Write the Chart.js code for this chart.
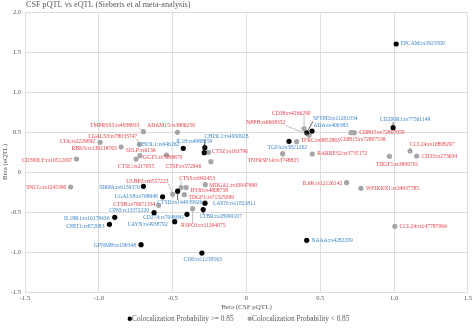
<!DOCTYPE html>
<html>
<head>
<meta charset="utf-8">
<script src="https://cdn.jsdelivr.net/npm/chart.js@4.4.1/dist/chart.umd.min.js"></script>
<style>
  html, body { margin: 0; padding: 0; background: #fff; }
  canvas { display: block; }
</style>
</head>
<body>
<canvas id="chart" width="474" height="333"></canvas>
<script>
// colocalization probability >= 0.85
const hiNames = [
  'EPCAM:rs3923500', 'CD200R1:rs77561149', 'SFTPD:rs11201034', 'ADA:rs406383', 'TGFA:rs3821262',
  'CHI3L1:rs4950928', 'IL18:rs4988359', 'CHI3L1:rs946262', 'SIRPA:rs6136376', 'LGALS8:rs768948',
  'CTSD:rs144939926', 'LAYN:rs11821811', 'LTBR:rs28999107', 'CPM:rs13372220', 'CD274:rs7048841',
  'LAYN:rs4938792', 'IL18R1:rs10178436', 'CHIT1:rs872083', 'GPNMB:rs199348', 'CD6:rs11230563',
  'NAAA:rs4282209'
];
const hiCsf = [1.014, 0.993, 0.408, 0.444, 0.288, -0.282, -0.286, -0.428, -0.698, -0.568,
  -0.466, -0.281, -0.293, -0.626, -0.403, -0.486, -0.892, -0.928, -0.714, -0.302, 0.408];
const hiEqtl = [1.60, 0.554, 0.49, 0.512, 0.383, 0.304, 0.242, 0.296, -0.179, -0.31,
  -0.24, -0.39, -0.47, -0.508, -0.529, -0.621, -0.567, -0.654, -0.908, -1.013, -0.854];

// colocalization probability < 0.85
const loNames = [
  'CD38:rs4266290', 'NPPB:rs6668352', 'TFRC:rs9852863', 'CDH15:rs72807050', 'CDH15:rs72807538',
  'TNFRSF14:rs3748825', 'RARRES2:rs3735172', 'CCL24:rs10808297', 'CD33:rs273634', 'TDGF1:rs3806701',
  'IL6R:rs12126142', 'WFIKKN1:rs34937785', 'CCL24:rs147787064', 'TMPRSS5:rs4938033', 'ADAM15:rs3806256',
  'LTA:rs2229092', 'LGALS3:rs78033747', 'RBKS:rs139218763', 'SELP:rs6136', 'GGT5:rs7288670',
  'CTSC:rs217055', 'CD300LF:rs10512097', 'CTSZ:rs163796', 'CTSF:rs572946', 'SNCG:rs1245390',
  'ULBP2:rs6557223', 'CTSS:rs942453', 'IFI30:rs4808758', 'TDGF1:rs71325099', 'MDGA1:rs10947690',
  'CTSB:rs79671334', 'RSPO1:rs11264075'
];
const loCsf = [0.39, 0.424, 0.34, 0.73, 0.709, 0.245, 0.446, 1.108, 1.153, 0.968,
  0.678, 0.775, 1.005, -0.698, -0.468, -0.991, -0.725, -0.849, -0.721, -0.541,
  -0.748, -1.151, -0.257, -0.241, -1.191, -0.50, -0.443, -0.409, -0.421, -0.279,
  -0.595, -0.365];
const loEqtl = [0.54, 0.46, 0.379, 0.492, 0.492, 0.229, 0.225, 0.2625, 0.20, 0.196,
  -0.133, -0.204, -0.679, 0.504, 0.496, 0.371, 0.346, 0.3125, 0.204, 0.2125,
  0.1625, 0.1625, 0.246, 0.129, -0.1875, -0.279, -0.195, -0.195, -0.283, -0.158,
  -0.416, -0.458];

const xTicks = [-1.5, -1, -0.5, 0, 0.5, 1, 1.5];
const yTicks = [-1.5, -1, -0.5, 0, 0.5, 1, 1.5, 2];

// where each point label sits: [dx, dy, align, leader line]
// align: 'l' text starts at dx, 'r' text ends at dx, 'c' text centred on dx
const labelPos = {
  'EPCAM:rs3923500': [4.3, 0, 'l'],
  'CD200R1:rs77561149': [12, -8, 'c', true],
  'SFTPD:rs11201034': [6.3, -14, 'l', true],
  'ADA:rs406383': [1.5, -5.5, 'l'],
  'TGFA:rs3821262': [-1.7, 5.7, 'c'],
  'CHI3L1:rs4950928': [21.7, -11, 'c', true],
  'IL18:rs4988359': [-10, -11.3, 'c', true],
  'CHI3L1:rs946262': [-4, -3.3, 'r'],
  'SIRPA:rs6136376': [-3.7, 1.7, 'r'],
  'LGALS8:rs768948': [-4.7, 0, 'r'],
  'CTSD:rs144939926': [2.2, 11.3, 'c', true],
  'LAYN:rs11821811': [8, 0, 'l'],
  'LTBR:rs28999107': [17.7, 7.3, 'c', true],
  'CPM:rs13372220': [-5, -2, 'r'],
  'CD274:rs7048841': [-2.7, 3, 'r'],
  'LAYN:rs4938792': [-7, 3, 'r'],
  'IL18R1:rs10178436': [-5.3, 1, 'r'],
  'CHIT1:rs872083': [-5, 2.7, 'r'],
  'GPNMB:rs199348': [-5, 1.3, 'r'],
  'CD6:rs11230563': [0.7, 6.3, 'c'],
  'NAAA:rs4282209': [4.7, 0, 'l'],
  'CD38:rs4266290': [-12.7, -15.3, 'c', true],
  'NPPB:rs6668352': [-43.3, -12.3, 'c', true],
  'TFRC:rs9852863': [4, -1, 'l'],
  'CDH15:rs72807050': [5, 0, 'l'],
  'CDH15:rs72807538': [11.7, 7, 'c'],
  'TNFRSF14:rs3748825': [-9.3, 6.7, 'c', true],
  'RARRES2:rs3735172': [5, 0, 'l'],
  'CCL24:rs10808297': [22, -6, 'c', true],
  'CD33:rs273634': [4.7, 0.3, 'l'],
  'TDGF1:rs3806701': [7.7, 8, 'c'],
  'IL6R:rs12126142': [-4.3, 1.3, 'r'],
  'WFIKKN1:rs34937785': [5, 0, 'l'],
  'CCL24:rs147787064': [4.7, 0, 'l'],
  'TMPRSS5:rs4938033': [-4, -5.7, 'r', true],
  'ADAM15:rs3806256': [-6.3, -6.7, 'c'],
  'LTA:rs2229092': [-5, -0.7, 'r'],
  'LGALS3:rs78033747': [-2.3, -7.7, 'r', true],
  'RBKS:rs139218763': [-4.3, 2, 'r'],
  'SELP:rs6136': [0.7, -5.3, 'c'],
  'GGT5:rs7288670': [-4, 2.7, 'c'],
  'CTSC:rs217055': [0, 7.3, 'c'],
  'CD300LF:rs10512097': [-4, 2, 'r'],
  'CTSZ:rs163796': [3.3, -1, 'l'],
  'CTSF:rs572946': [-9.7, 5.3, 'r'],
  'SNCG:rs1245390': [-4.3, 0.7, 'r'],
  'ULBP2:rs6557223': [-25.3, -13, 'c', true],
  'CTSS:rs942453': [16, -9.3, 'c', true],
  'IFI30:rs4808758': [4.3, 3.3, 'l'],
  'TDGF1:rs71325099': [4.3, 2.7, 'l'],
  'MDGA1:rs10947690': [4, 1, 'l'],
  'CTSB:rs79671334': [-3.3, -1, 'r'],
  'RSPO1:rs11264075': [10.7, 16.7, 'c', true]
};

const SERIF = '"Liberation Serif", "Times New Roman", serif';
const textGrey = '#595959';
const gridGrey = '#dedede';

const toPoints = (names, xs, ys) => names.map((name, i) => ({ x: xs[i], y: ys[i], name }));

// gene:SNP labels with optional leader lines
const pointLabels = {
  id: 'pointLabels',
  afterDatasetsDraw(chart) {
    const ctx = chart.ctx;
    ctx.save();
    ctx.font = '5.6px ' + SERIF;
    ctx.textBaseline = 'middle';
    ctx.textAlign = 'left';
    chart.data.datasets.forEach((ds, di) => {
      const meta = chart.getDatasetMeta(di);
      meta.data.forEach((pt, i) => {
        const name = ds.data[i].name;
        const [dx, dy, align, leader] = labelPos[name] || [4, 0, 'l'];
        const w = ctx.measureText(name).width;
        let left = pt.x + dx;
        if (align === 'r') left -= w;
        if (align === 'c') left -= w / 2;
        const cy = pt.y + dy;
        if (leader) {
          const bx = Math.max(left, Math.min(pt.x, left + w));
          const by = Math.max(cy - 2.5, Math.min(pt.y, cy + 2.5));
          ctx.strokeStyle = ds.leaderColor;
          ctx.lineWidth = 0.7;
          ctx.beginPath();
          ctx.moveTo(pt.x, pt.y);
          ctx.lineTo(bx, by);
          ctx.stroke();
        }
        ctx.fillStyle = ds.labelColor;
        ctx.fillText(name, left, cy);
      });
    });
    ctx.restore();
  }
};

// title, y axis title and the legend row
const decorations = {
  id: 'decorations',
  afterDraw(chart) {
    const ctx = chart.ctx;
    ctx.save();
    ctx.fillStyle = textGrey;
    ctx.textBaseline = 'middle';
    ctx.textAlign = 'left';
    ctx.font = '8.2px ' + SERIF;
    ctx.fillText('CSF pQTL vs eQTL (Sieberts et al meta-analysis)', 26, 4.5);

    ctx.save();
    ctx.translate(5.3, 162);
    ctx.rotate(-Math.PI / 2);
    ctx.textAlign = 'center';
    ctx.font = '7px ' + SERIF;
    ctx.fillText('Beta (eQTL)', 0, 0);
    ctx.restore();

    ctx.font = '7.3px ' + SERIF;
    const items = chart.data.datasets.map(ds => ({ text: ds.label, color: ds.backgroundColor }));
    const gap = 15, sym = 3.5;
    const widths = items.map(it => sym + ctx.measureText(it.text).width);
    const total = widths.reduce((a, b) => a + b, 0) + gap * (items.length - 1);
    let x = 239 - total / 2;
    const y = 318.7;
    items.forEach((it, i) => {
      ctx.fillStyle = it.color;
      ctx.beginPath();
      ctx.arc(x + 1.2, y, 2.2, 0, Math.PI * 2);
      ctx.fill();
      ctx.fillStyle = textGrey;
      ctx.fillText(it.text, x + sym, y);
      x += widths[i] + gap;
    });
    ctx.restore();
  }
};

new Chart(document.getElementById('chart'), {
  type: 'scatter',
  data: {
    datasets: [
      {
        label: 'Colocalization Probability >= 0.85',
        data: toPoints(hiNames, hiCsf, hiEqtl),
        backgroundColor: '#000000',
        borderWidth: 0,
        pointRadius: 2.6,
        labelColor: '#3f86c9',
        leaderColor: '#222222'
      },
      {
        label: 'Colocalization Probability < 0.85',
        data: toPoints(loNames, loCsf, loEqtl),
        backgroundColor: '#a6a6a6',
        borderWidth: 0,
        pointRadius: 2.6,
        labelColor: '#e8404a',
        leaderColor: '#a6a6a6'
      }
    ]
  },
  options: {
    responsive: false,
    animation: false,
    devicePixelRatio: 1,
    layout: { padding: { top: 12, right: 4, bottom: 21, left: 0 } },
    plugins: { legend: { display: false }, tooltip: { enabled: false } },
    scales: {
      x: {
        type: 'linear',
        min: -1.5,
        max: 1.5,
        afterBuildTicks: s => { s.ticks = xTicks.map(v => ({ value: v })); },
        afterFit: s => { s.height = 20; },
        ticks: { padding: 2, color: textGrey, font: { family: SERIF, size: 6.5 } },
        grid: { color: gridGrey, drawTicks: false },
        border: { color: gridGrey },
        title: {
          display: true,
          text: 'Beta (CSF pQTL)',
          color: textGrey,
          font: { family: SERIF, size: 7 },
          padding: { top: 0, bottom: 1 }
        }
      },
      y: {
        type: 'linear',
        min: -1.5,
        max: 2,
        afterBuildTicks: s => { s.ticks = yTicks.map(v => ({ value: v })); },
        afterFit: s => { s.width = 25; },
        ticks: { padding: 4, color: textGrey, font: { family: SERIF, size: 6.5 } },
        grid: { color: gridGrey, drawTicks: false },
        border: { color: gridGrey }
      }
    }
  },
  plugins: [pointLabels, decorations]
});
</script>
</body>
</html>
